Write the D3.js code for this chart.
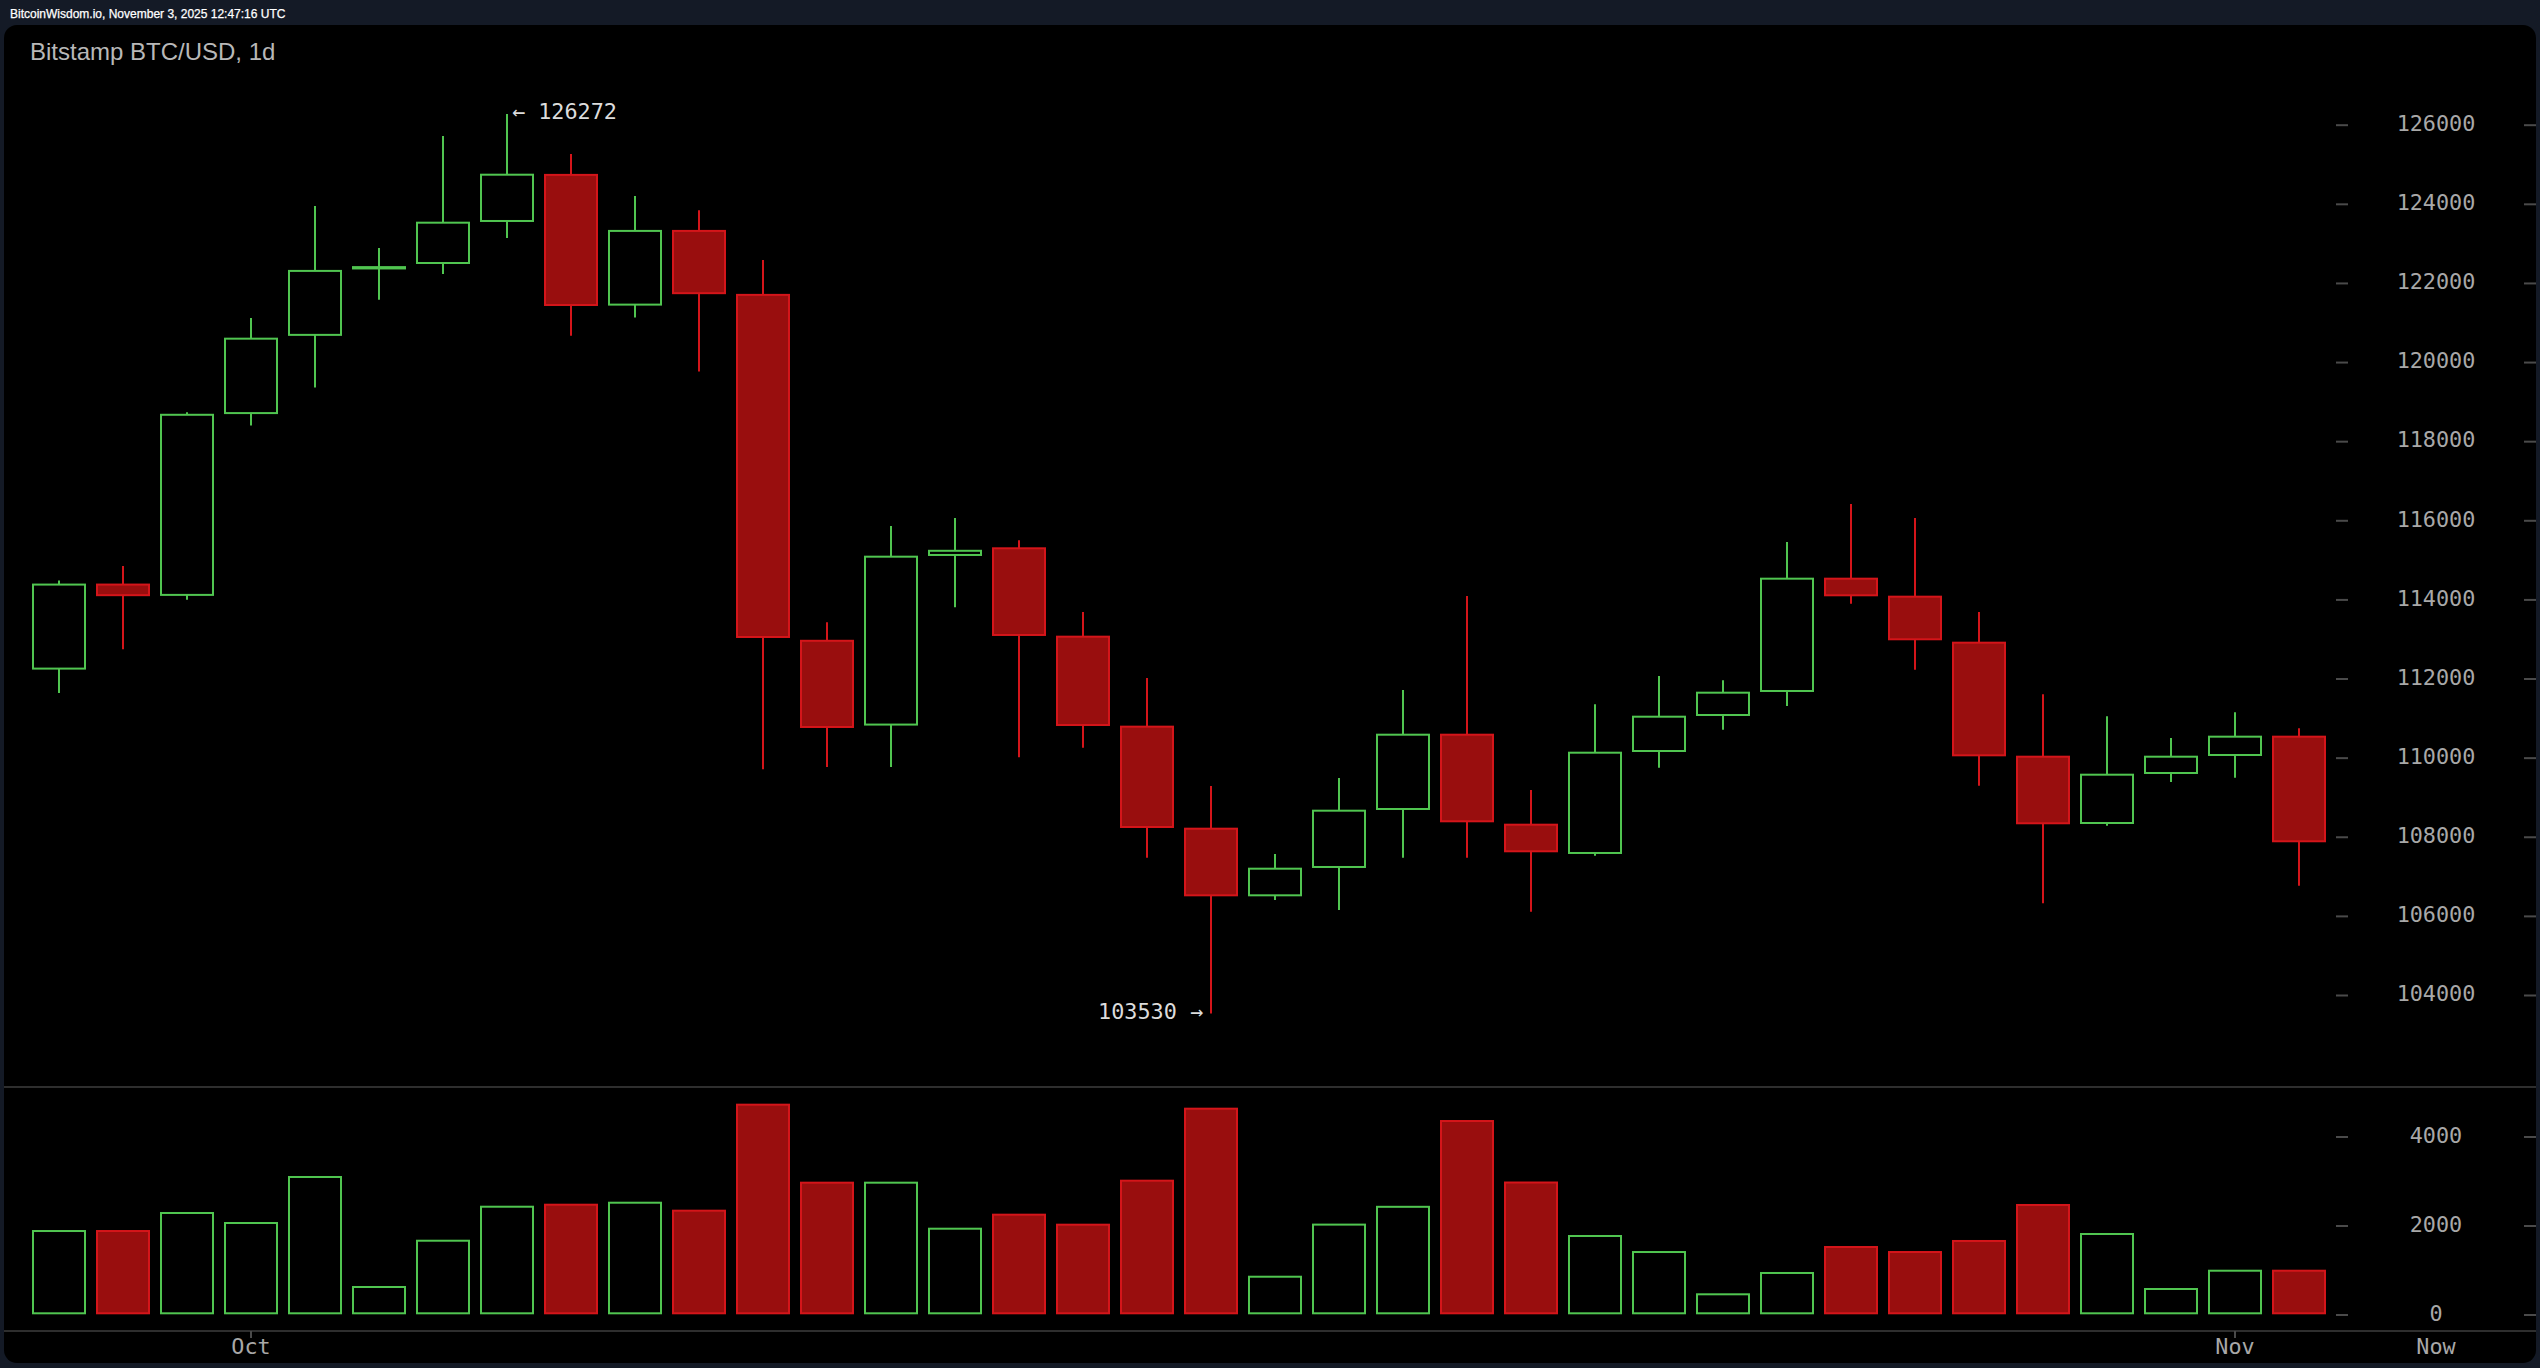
<!DOCTYPE html>
<html lang="en">
<head>
    <meta charset="UTF-8">
    <title>Bitstamp BTC/USD, 1d</title>
    <script type="text/javascript" src="https://cdn.jsdelivr.net/npm/d3@7"></script>
    <style type="text/css">
        html, body { margin: 0; padding: 0; background: #141a26; overflow: hidden; }
        svg { display: block; }
        .mono { font-family: "DejaVu Sans Mono", monospace; font-size: 21.8px; }
    </style>
</head>
<body>
    <script type="text/javascript">
        var dates = ["09-28", "09-29", "09-30",
            "10-01", "10-02", "10-03", "10-04", "10-05", "10-06", "10-07", "10-08", "10-09", "10-10",
            "10-11", "10-12", "10-13", "10-14", "10-15", "10-16", "10-17", "10-18", "10-19", "10-20",
            "10-21", "10-22", "10-23", "10-24", "10-25", "10-26", "10-27", "10-28", "10-29", "10-30", "10-31",
            "11-01", "11-02"];
        var opens = [112251, 114375, 114114, 118710, 120687, 122366, 122504, 123566, 124731, 121452, 123315, 121698,
            112954, 110836, 115123, 115292, 113058, 110783, 108204, 106520, 107236, 108702, 110580, 108305,
            107590, 110168, 111078, 111685, 114524, 114069, 112906, 110024, 108348, 109612, 110067, 110530];
        var highs = [114481, 114845, 118728, 121114, 123945, 122883, 125714, 126272, 125262, 124198, 123836, 122580,
            113421, 115856, 116058, 115494, 113682, 112014, 109283, 107565, 109486, 111710, 114087, 109183,
            111349, 112064, 111955, 115451, 116412, 116058, 113682, 111602, 111046, 110497, 111147, 110742];
        var lows = [111634, 112739, 113993, 118396, 119354, 121574, 122226, 123136, 120666, 121124, 119761, 109708,
            109761, 109761, 113803, 110007, 110252, 107471, 103530, 106402, 106149, 107471, 107471, 106106,
            107522, 109746, 110707, 111306, 113892, 112223, 109291, 106318, 108280, 109385, 109493, 106763];
        var closes = [114375, 114107, 118667, 120591, 122304, 122400, 123523, 124736, 121442, 123315, 121741, 113050,
            110775, 115080, 115229, 113101, 110825, 108247, 106520, 107193, 108659, 110580, 108391, 107633,
            110125, 111035, 111642, 114524, 114104, 112992, 110059, 108341, 109569, 110024, 110530, 107886];
        var volumes = [1876, 1876, 2281, 2056, 3090, 618, 1658, 2422, 2467, 2512, 2333, 4715,
            2962, 2962, 1928, 2243, 2018, 3007, 4625, 849, 2020, 2420, 4348, 2966,
            1764, 1404, 454, 933, 1517, 1404, 1652, 2461, 1809, 573, 984, 984];
        var priceTicks = [104000, 106000, 108000, 110000, 112000, 114000, 116000, 118000, 120000, 122000, 124000, 126000];
        var volumeTicks = [0, 2000, 4000];
        var monthTicks = ["10-01", "11-01"];
        var monthLabels = ["Oct", "Nov"];

        var width = 2540;
        var height = 1368;
        var green = "#50c550";
        var red = "#d4151a";
        var redFill = "#990e0e";
        var tickColor = "#4a4a4a";
        var labelColor = "#a8a8a8";
        var labelX = 2436;

        var svg = d3.select("body").append("svg")
            .attr("width", width)
            .attr("height", height);

        // black panel on the navy page
        svg.append("rect")
            .attr("x", 4).attr("y", 25)
            .attr("width", 2532).attr("height", 1338)
            .attr("rx", 13)
            .attr("fill", "#000");

        var x = d3.scaleBand()
            .domain(dates)
            .range([27, 2331])
            .paddingInner(0.1875)
            .paddingOuter(0.09375);
        var yPrice = d3.scaleLinear().domain([104000, 126000]).range([995, 124.7]);
        var yVolume = d3.scaleLinear().domain([0, 4000]).range([1314.5, 1136.5]);

        var isUp = function(i) { return closes[i] >= opens[i]; };
        var center = function(i) { return x(dates[i]) + x.bandwidth() / 2; };

        // candles
        var candles = svg.append("g").attr("id", "candles")
            .selectAll("g")
            .data(dates)
            .enter()
            .append("g");
        candles.append("line")
            .attr("x1", function(d, i) { return center(i); })
            .attr("x2", function(d, i) { return center(i); })
            .attr("y1", function(d, i) { return yPrice(highs[i]); })
            .attr("y2", function(d, i) { return yPrice(lows[i]); })
            .attr("stroke", function(d, i) { return isUp(i) ? green : red; })
            .attr("stroke-width", 2);
        candles.append("rect")
            .attr("x", function(d) { return x(d); })
            .attr("width", x.bandwidth())
            .attr("y", function(d, i) { return yPrice(Math.max(opens[i], closes[i])); })
            .attr("height", function(d, i) { return Math.abs(yPrice(opens[i]) - yPrice(closes[i])); })
            .attr("fill", function(d, i) { return isUp(i) ? "#000" : redFill; })
            .attr("stroke", function(d, i) { return isUp(i) ? green : red; })
            .attr("stroke-width", 2);

        // volume bars
        svg.append("g").attr("id", "volume")
            .selectAll("rect")
            .data(dates)
            .enter()
            .append("rect")
            .attr("x", function(d) { return x(d); })
            .attr("width", x.bandwidth())
            .attr("y", function(d, i) { return yVolume(volumes[i]); })
            .attr("height", function(d, i) { return yVolume(0) - yVolume(volumes[i]) - 1.2; })
            .attr("fill", function(d, i) { return isUp(i) ? "#000" : redFill; })
            .attr("stroke", function(d, i) { return isUp(i) ? green : red; })
            .attr("stroke-width", 2);

        // separators between the panes
        svg.append("g").selectAll("line")
            .data([1087, 1331])
            .enter()
            .append("line")
            .attr("x1", 4).attr("x2", 2536)
            .attr("y1", function(d) { return d; })
            .attr("y2", function(d) { return d; })
            .attr("stroke", "#3e3e3e")
            .attr("stroke-width", 1.5);

        var styleAxis = function(g) {
            g.select(".domain").remove();
            g.selectAll("line").attr("stroke", tickColor).attr("stroke-width", 2);
            g.selectAll("text")
                .attr("class", "mono")
                .attr("fill", labelColor)
                .attr("text-anchor", "middle");
        };

        var addValueAxis = function(scale, ticks) {
            // ticks on both sides of the label column
            var left = d3.axisRight(scale).tickValues(ticks).tickSize(12).tickFormat(d3.format("d"));
            var right = d3.axisRight(scale).tickValues(ticks).tickSize(12).tickFormat("");
            svg.append("g")
                .attr("transform", "translate(2336, 0)")
                .call(left)
                .call(styleAxis)
                .selectAll("text")
                .attr("x", labelX - 2336)
                .attr("dy", null)
                .attr("y", 5.8);
            svg.append("g")
                .attr("transform", "translate(2524, 0)")
                .call(right)
                .call(styleAxis);
        };
        addValueAxis(yPrice, priceTicks);
        addValueAxis(yVolume, volumeTicks);

        svg.append("g")
            .attr("transform", "translate(0, 1331)")
            .call(d3.axisBottom(x)
                .tickValues(monthTicks)
                .tickSize(7)
                .tickPadding(8)
                .tickFormat(function(d) { return monthLabels[monthTicks.indexOf(d)]; }))
            .call(styleAxis)
            .selectAll("text")
            .attr("dy", null)
            .attr("y", 23);

        svg.append("text")
            .attr("class", "mono")
            .attr("x", labelX)
            .attr("y", 1354)
            .attr("text-anchor", "middle")
            .attr("fill", labelColor)
            .text("Now");

        // high and low markers
        var hi = d3.max(highs);
        var lo = d3.min(lows);
        svg.append("text")
            .attr("class", "mono")
            .attr("x", center(highs.indexOf(hi)) + 5)
            .attr("y", yPrice(hi) + 5.5)
            .attr("fill", "#dcdcdc")
            .text("\u2190 " + hi);
        svg.append("text")
            .attr("class", "mono")
            .attr("x", center(lows.indexOf(lo)) - 8)
            .attr("y", yPrice(lo) + 5)
            .attr("text-anchor", "end")
            .attr("fill", "#dcdcdc")
            .text(lo + " \u2192");

        // captions
        svg.append("text")
            .attr("x", 30)
            .attr("y", 60)
            .attr("font-family", "'Liberation Sans', sans-serif")
            .attr("font-size", 24)
            .attr("fill", "#b8b8b8")
            .text("Bitstamp BTC/USD, 1d");
        svg.append("text")
            .attr("x", 10)
            .attr("y", 17.5)
            .attr("font-family", "'Liberation Sans', sans-serif")
            .attr("font-size", 12)
            .attr("fill", "#fff")
            .attr("stroke", "#fff")
            .attr("stroke-width", 0.25)
            .text("BitcoinWisdom.io, November 3, 2025 12:47:16 UTC");
    </script>
</body>
</html>
